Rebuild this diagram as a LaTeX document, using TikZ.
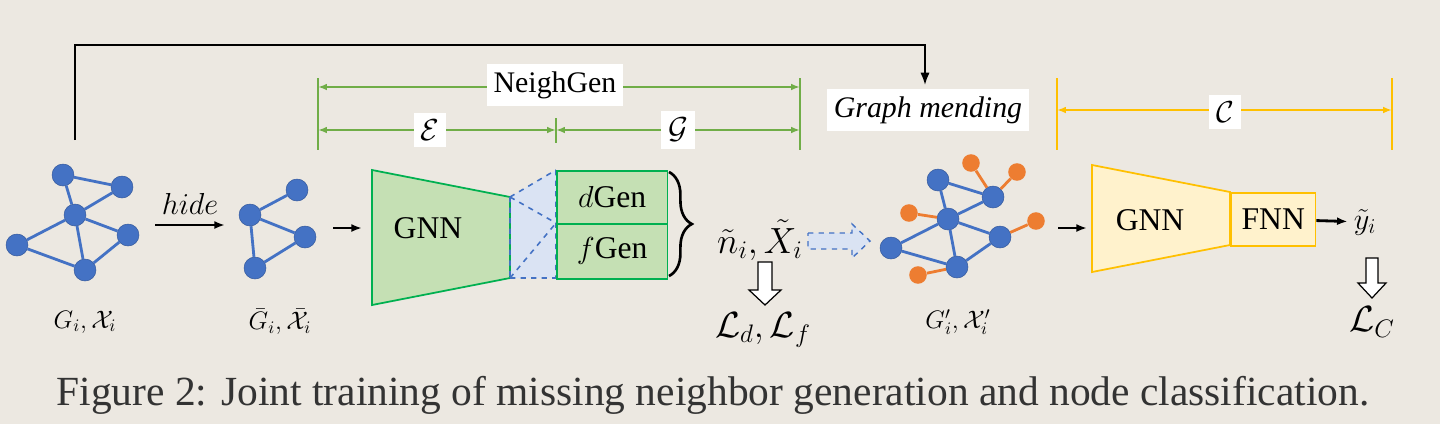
\documentclass[tikz,border=0pt]{standalone}
\usepackage{fontspec}
\setmainfont{Liberation Serif}
\usepackage{amsmath}
\usetikzlibrary{arrows.meta,decorations.pathreplacing}
\definecolor{bg}{HTML}{ECE8E1}
\definecolor{nb}{HTML}{4472C4}
\definecolor{no}{HTML}{ED7D31}
\definecolor{gl}{HTML}{70AD47}
\definecolor{gb}{HTML}{00B050}
\definecolor{gf}{HTML}{C5E0B4}
\definecolor{yl}{HTML}{FFC000}
\definecolor{yf}{HTML}{FFF2CC}
\definecolor{lb}{HTML}{DAE3F3}
\begin{document}
\begin{tikzpicture}[x=0.02cm,y=-0.02cm,
 bn/.style={circle,fill=nb,draw=nb!80!black,line width=0.3pt,minimum size=12.5pt,inner sep=0},
 on/.style={circle,fill=no,minimum size=10pt,inner sep=0},
 be/.style={nb,line width=1.6pt},
 oe/.style={no,line width=1.6pt},
 lab/.style={font=\fontsize{14}{16}\selectfont},
 box/.style={fill=white,inner sep=4pt,font=\fontsize{17}{19}\selectfont},
 dim/.style={line width=1.2pt,{Latex[length=5pt]}-{Latex[length=5pt]}},
 arr/.style={line width=1.6pt,-{Latex[length=6pt]}}]
\fill[bg] (0,0) rectangle (1440,424);
\useasboundingbox (0,0) rectangle (1440,424);
% top feedback
\coordinate (t0) at (75,140); \coordinate (t1) at (925,85);
\draw[line width=1pt,-{Latex[length=7pt]}] (t0) |- (925,45) -- (t1);
% graph 1
\node[bn] (a1) at (63,175) {}; \node[bn] (a2) at (122,187) {};
\node[bn] (a3) at (75,215) {}; \node[bn] (a4) at (128,235) {};
\node[bn] (a5) at (17,245) {}; \node[bn] (a6) at (85,270) {};
\draw[be] (a1)--(a2) (a2)--(a3) (a1)--(a3) (a3)--(a5) (a3)--(a4) (a3)--(a6) (a5)--(a6) (a4)--(a6);
\node[lab] (l1) at (85,322) {$G_i,\mathcal{X}_i$};
\coordinate (h0) at (155,225); \coordinate (h1) at (225,225);
\draw[arr] (h0) -- (h1) node[midway,above=2pt,font=\fontsize{19}{21}\selectfont] {$hide$};
% graph 2
\node[bn] (b1) at (297,190) {}; \node[bn] (b2) at (250,215) {};
\node[bn] (b3) at (305,237) {}; \node[bn] (b4) at (255,268) {};
\draw[be] (b2)--(b1) (b2)--(b3) (b2)--(b4) (b4)--(b3);
\node[lab] (l2) at (280,322) {$\bar G_i,\bar{\mathcal{X}}_i$};
\coordinate (g0) at (333,228); \coordinate (g1) at (362,228);
\draw[arr] (g0) -- (g1);
% NeighGen encoder
\fill[lb] (510,197) -- (556,170) -- (556,278) -- (510,278) -- cycle;
\draw[gb,line width=1pt,fill=gf] (372,170) -- (510,197) -- (510,278) -- (372,305) -- cycle;
\node[font=\fontsize{18}{20}\selectfont] (gnn1) at (428,228) {GNN};
\draw[nb,dashed,line width=0.9pt] (510,197) -- (556,170) (510,278) -- (556,278) (510,197) -- (556,223) (510,278) -- (556,223) (510,197) -- (510,278) (556,170) -- (556,278);
\node[draw=gb,fill=gf,line width=1pt,minimum width=111*0.567pt,minimum height=53*0.567pt,anchor=north west,inner sep=0,font=\fontsize{18}{20}\selectfont] (dg) at (556,170) {$d$Gen};
\node[draw=gb,fill=gf,line width=1pt,minimum width=111*0.567pt,minimum height=55*0.567pt,anchor=north west,inner sep=0,font=\fontsize{18}{20}\selectfont] (fg) at (556,223) {$f$Gen};
\draw[decorate,decoration={brace,amplitude=13pt},line width=1.5pt] (669,172) -- (669,276);
\node[font=\fontsize{20}{22}\selectfont] (nx) at (760,240) {$\tilde n_i,\tilde X_i$};
\draw[nb,dashed,fill=lb,line width=0.8pt] (808,233) -- (852,233) -- (852,224) -- (870,241) -- (852,258) -- (852,249) -- (808,249) -- cycle;
\draw[line width=0.7pt,fill=white] (758,262) -- (772,262) -- (772,290) -- (781,290) -- (765,305) -- (749,290) -- (758,290) -- cycle;
\node[font=\fontsize{20}{22}\selectfont] (ldf) at (763,330) {$\mathcal{L}_d,\mathcal{L}_f$};
% graph 3
\node[bn] (c1) at (938,180) {}; \node[bn] (c2) at (993,197) {};
\node[bn] (c3) at (948,219) {}; \node[bn] (c4) at (1000,237) {};
\node[bn] (c5) at (891,248) {}; \node[bn] (c6) at (957,267) {};
\node[on] (o1) at (971,163) {}; \node[on] (o2) at (1017,172) {};
\node[on] (o3) at (909,213) {}; \node[on] (o4) at (1036,221) {};
\node[on] (o5) at (918,275) {};
\draw[oe] (o1)--(c2) (o2)--(c2) (o3)--(c3) (o4)--(c4) (o5)--(c6);
\draw[be] (c1)--(c2) (c1)--(c3) (c2)--(c3) (c3)--(c5) (c3)--(c4) (c3)--(c6) (c5)--(c6) (c4)--(c6);
\node[lab] (l3) at (958,322) {$G_i',\mathcal{X}_i'$};
\coordinate (k0) at (1058,228); \coordinate (k1) at (1087,228);
\draw[arr] (k0) -- (k1);
% classifier
\draw[yl,line width=1pt,fill=yf] (1092,165) -- (1230,192) -- (1230,245) -- (1092,272) -- cycle;
\node[font=\fontsize{18}{20}\selectfont] (gnn2) at (1150,220) {GNN};
\node[draw=yl,fill=yf,line width=1pt,minimum width=85*0.567pt,minimum height=53*0.567pt,anchor=north west,inner sep=0,font=\fontsize{18}{20}\selectfont] (fnn) at (1230,192) {FNN};
\node[font=\fontsize{17}{19}\selectfont] (y) at (1365,222) {$\tilde y_i$};
\draw[arr] (fnn) -- (y);
\draw[line width=0.7pt,fill=white] (1366,258) -- (1378,258) -- (1378,283) -- (1386,283) -- (1372,298) -- (1358,283) -- (1366,283) -- cycle;
\node[font=\fontsize{20}{22}\selectfont] (lc) at (1372,322) {$\mathcal{L}_C$};
% dimension lines
\draw[gl,line width=1.2pt] (318,78) -- (318,150) (800,78) -- (800,150) (556,118) -- (556,143);
\draw[gl,dim] (318,87) -- (800,87);
\draw[gl,dim] (318,130) -- (556,130);
\draw[gl,dim] (556,130) -- (800,130);
\node[box] (ng) at (555,85) {NeighGen};
\node[box] (ee) at (430,130) {$\mathcal{E}$};
\node[box] (gg) at (678,130) {$\mathcal{G}$};
\node[box,font=\fontsize{17}{19}\selectfont\itshape] (gm) at (928,110) {Graph mending};
\draw[yl,line width=1.2pt] (1057,78) -- (1057,150) (1392,78) -- (1392,150);
\draw[yl,dim] (1057,110) -- (1392,110);
\node[box] (cc) at (1225,112) {$\mathcal{C}$};
\node[font=\fontsize{23.6}{26}\selectfont,text=black!80] (cap) at (713,395) {Figure 2: Joint training of missing neighbor generation and node classification.};
\end{tikzpicture}
\end{document}
